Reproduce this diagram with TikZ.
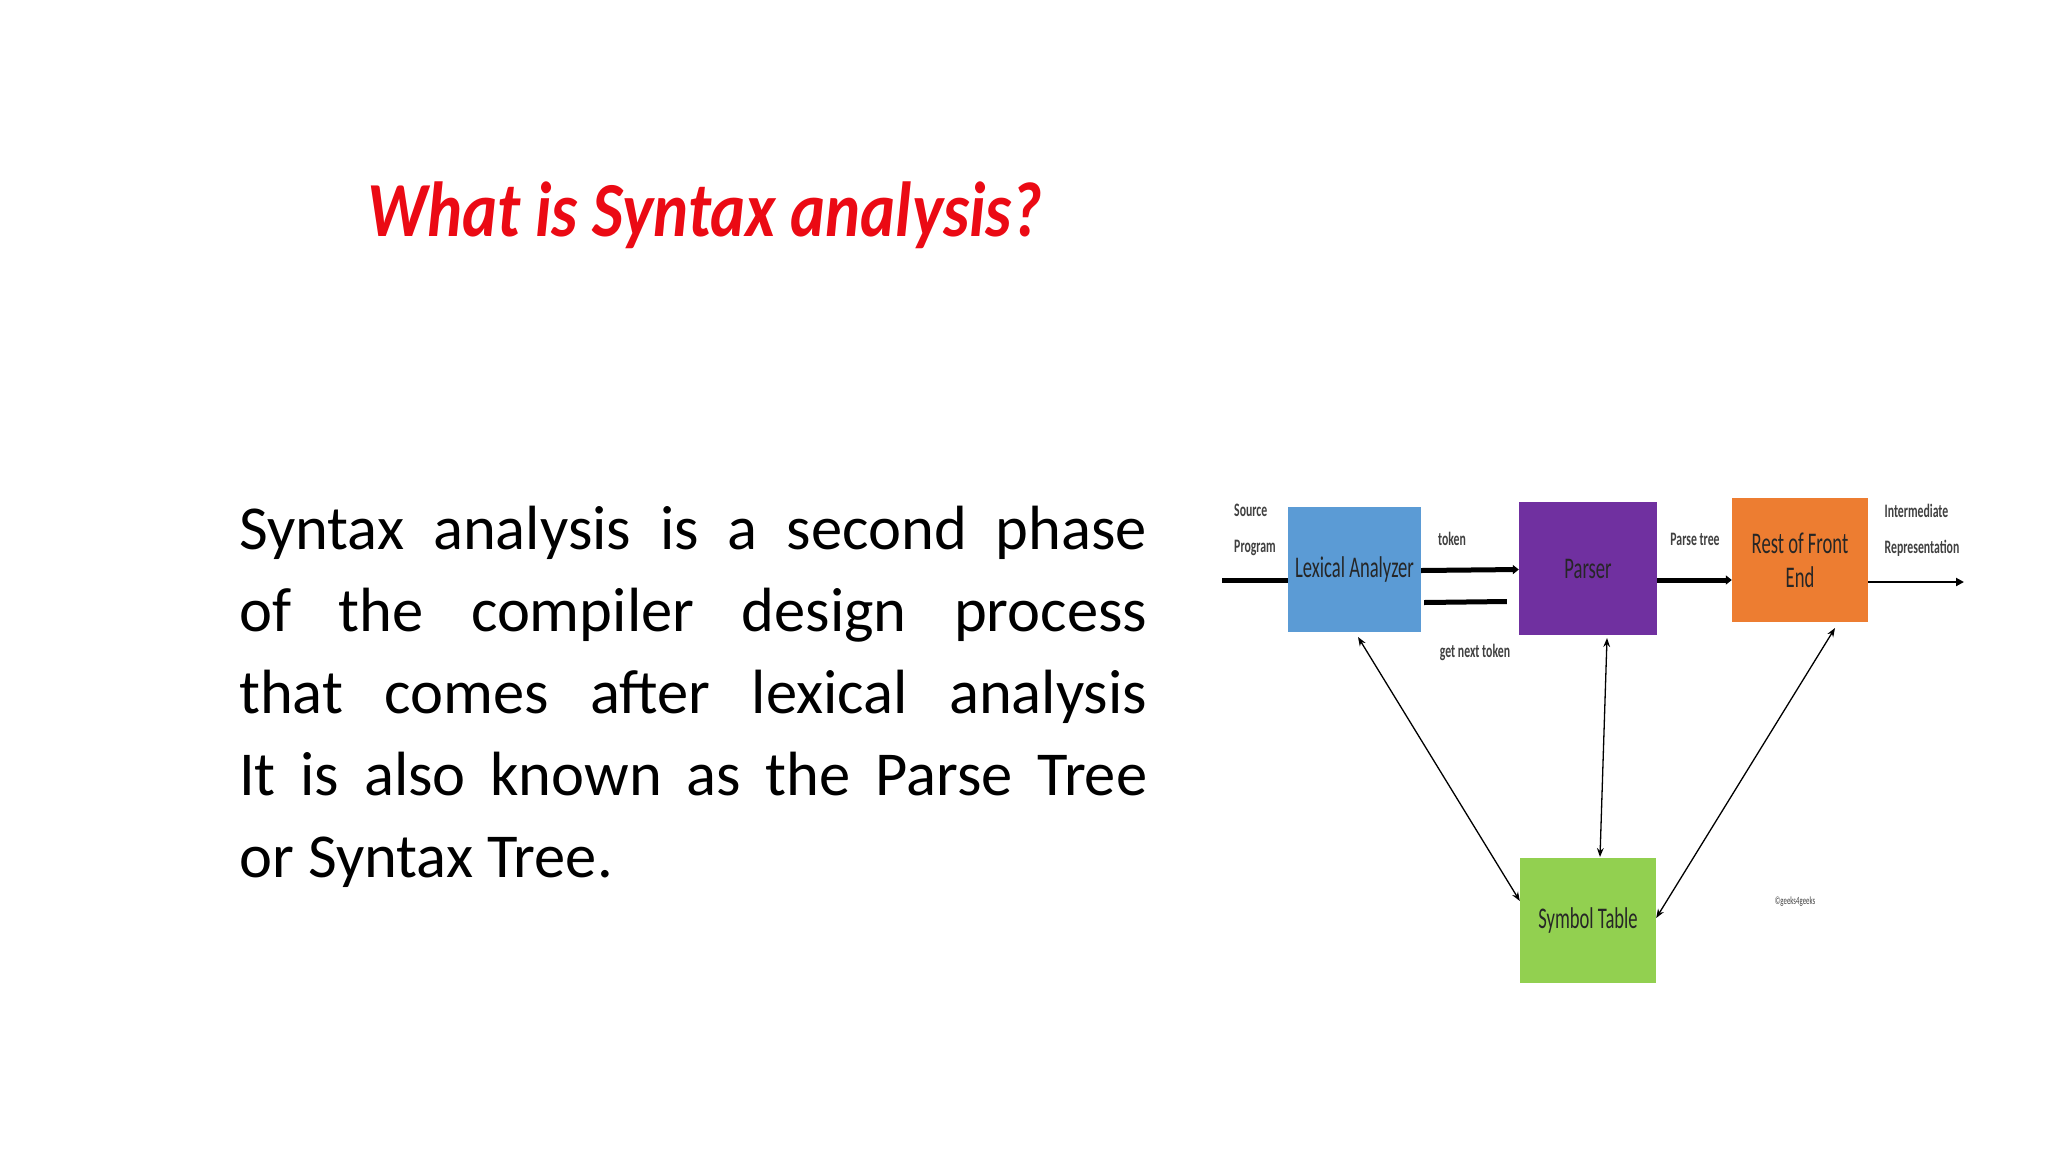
\documentclass[tikz,border=0pt]{standalone}
\usepackage{fontspec}
\setmainfont{Carlito}
\newfontfamily\narrowf[FakeStretch=0.62]{Carlito}
\newfontfamily\titlef[FakeStretch=0.85]{Carlito}
\usetikzlibrary{arrows.meta}
\begin{document}
\begin{tikzpicture}[x=1pt,y=-1pt,
  box/.style={draw=none,inner sep=0pt,font=\narrowf\fontsize{30}{34}\selectfont,align=center,text=black!85},
  lbl/.style={inner sep=0pt,font=\narrowf\bfseries\fontsize{19}{36}\selectfont,align=left,text=black!75},
  thickarr/.style={line width=5pt,-{Triangle[length=6pt,width=9pt]}},
  dbl/.style={thin,{Stealth[length=9pt]}-{Stealth[length=9pt]},line width=1.3pt}]
\useasboundingbox (0,0) rectangle (2048,1152);
\node[font=\titlef\bfseries\itshape\fontsize{78}{80}\selectfont,text={rgb,255:red,235;green,10;blue,20}] (title) at (705,215) {What is Syntax analysis?};
\node[anchor=north west,inner sep=0pt,text width=908pt,align=justify,font=\fontsize{62.5}{82}\selectfont] (body) at (239,506)
 {Syntax analysis is a second phase\linebreak of the compiler design process\linebreak that comes after lexical analysis\linebreak It is also known as the Parse Tree\linebreak or Syntax Tree.\par};
\node[box,fill={rgb,255:red,91;green,155;blue,213},minimum width=133pt,minimum height=125pt] (lex) at (1354.5,569.5) {Lexical Analyzer};
\node[box,fill={rgb,255:red,112;green,48;blue,160},minimum width=138pt,minimum height=133pt] (par) at (1588,568.5) {Parser};
\node[box,fill={rgb,255:red,237;green,125;blue,49},minimum width=136pt,minimum height=124pt] (rest) at (1800,560) {Rest of Front\\End};
\node[box,fill={rgb,255:red,146;green,208;blue,80},minimum width=136pt,minimum height=125pt] (sym) at (1588,920.5) {Symbol Table};
\coordinate (src) at (1222,580);
\coordinate (out) at (1964,582);
\coordinate (pt1) at (0,580);
\draw[line width=5pt] (src) -- (src -| lex.west);
\draw[thickarr] ([yshift=-1pt]lex.east) -- ([yshift=-1pt]par.west);
\draw[line width=5pt] ([yshift=-33pt,xshift=-12pt]par.west) -- ([yshift=-33pt,xshift=3pt]lex.east);
\draw[thickarr] (pt1 -| par.east) -- (pt1 -| rest.west);
\draw[line width=2.5pt,-{Triangle[length=8pt,width=8pt]}] (out -| rest.east) -- (out);
\node[lbl] (srcl) at (1255,530) {Source\\Program};
\node[lbl] (tok) at (1452,539) {token};
\node[lbl] (gnt) at (1475,652) {get next token};
\node[lbl] (pt) at (1695,539) {Parse tree};
\node[lbl] (ir) at (1922,530) {Intermediate\\Representation};
\node[lbl,font=\narrowf\fontsize{11}{12}\selectfont] (cp) at (1795,902) {©geeks4geeks};
\draw[dbl] (1358,637) -- (sym.west |- 0,901);
\draw[dbl] (1607,638) -- (1600,857);
\draw[dbl] (1835,628) -- (sym.east |- 0,918);
\end{tikzpicture}
\end{document}
